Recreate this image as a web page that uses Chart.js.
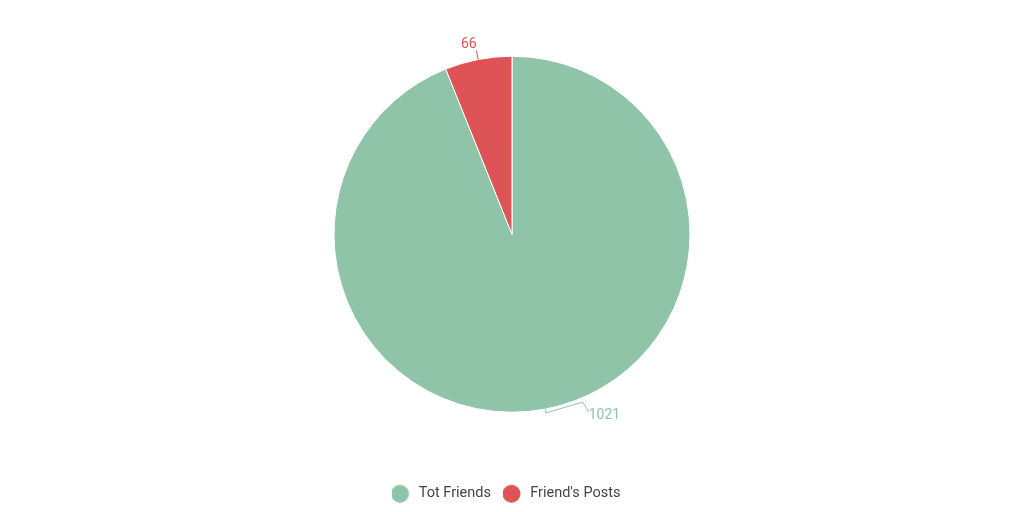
<!DOCTYPE html>
<html>
<head>
<meta charset="utf-8">
<script src="https://cdn.jsdelivr.net/npm/chart.js@4"></script>
<style>
html,body{margin:0;padding:0;background:#fff;}
#wrap{width:1024px;height:512px;position:relative;}
</style>
</head>
<body>
<div id="wrap"><canvas id="c" width="1024" height="512"></canvas></div>
<script>
const categories = ["Tot Friends", "Friend's Posts"];
const values = [1021, 66];
const colors = ["#8fc4a8", "#de5355"];

function dot(color) {
  const c = document.createElement('canvas');
  c.width = 20; c.height = 20;
  const g = c.getContext('2d');
  g.fillStyle = color;
  g.beginPath();
  g.arc(8.5, 10, 9, 0, Math.PI * 2);
  g.fill();
  return c;
}
const dots = colors.map(dot);

const outLabels = {
  id: 'outLabels',
  afterLayout(chart) {
    if (chart.legend) { chart.legend.left -= 12; }
  },
  afterDatasetsDraw(chart) {
    const ctx = chart.ctx;
    const meta = chart.getDatasetMeta(0);
    meta.data.forEach((arc, i) => {
      const p = arc.getProps(['x','y','startAngle','endAngle','outerRadius'], true);
      const mid = (p.startAngle + p.endAngle) / 2;
      const ax = p.x + Math.cos(mid) * p.outerRadius;
      const ay = p.y + Math.sin(mid) * p.outerRadius;
      ctx.save();
      ctx.strokeStyle = colors[i];
      ctx.fillStyle = colors[i];
      ctx.lineWidth = 1;
      ctx.font = '14px Roboto';
      ctx.beginPath();
      if (Math.sin(mid) > 0) {
        ctx.moveTo(ax, ay);
        ctx.lineTo(ax, ay + 4);
        ctx.lineTo(ax + 37, ay - 7);
        ctx.lineTo(ax + 43, ay + 3);
        ctx.stroke();
        ctx.textAlign = 'left';
        ctx.textBaseline = 'middle';
        ctx.fillText(String(values[i]), ax + 43, ay + 6);
      } else {
        ctx.moveTo(ax, ay);
        ctx.lineTo(ax - 2, ay - 9);
        ctx.stroke();
        ctx.textAlign = 'center';
        ctx.textBaseline = 'middle';
        ctx.fillText(String(values[i]), ax - 9.5, ay - 15);
      }
      ctx.restore();
    });
  }
};

new Chart(document.getElementById('c'), {
  type: 'pie',
  data: {
    labels: categories,
    datasets: [{
      data: values,
      backgroundColor: colors,
      borderColor: '#ffffff',
      borderWidth: 1,
      radius: 178
    }]
  },
  options: {
    responsive: false,
    animation: false,
    layout: { padding: { top: 0, bottom: 1 } },
    plugins: {
      legend: {
        position: 'bottom',
        title: {
          display: true,
          text: '',
          font: { size: 2.5 },
          padding: { top: 1.5, bottom: 1.5 }
        },
        labels: {
          usePointStyle: true,
          pointStyleWidth: 20,
          color: '#444',
          font: { family: 'Roboto', size: 14.5 },
          padding: 12,
          generateLabels(chart) {
            return categories.map((t, i) => ({
              text: t,
              fillStyle: colors[i],
              strokeStyle: colors[i],
              lineWidth: 0,
              pointStyle: dots[i],
              fontColor: '#444',
              hidden: false,
              index: i
            }));
          }
        }
      },
      tooltip: { enabled: false }
    }
  },
  plugins: [outLabels]
});
</script>
</body>
</html>
